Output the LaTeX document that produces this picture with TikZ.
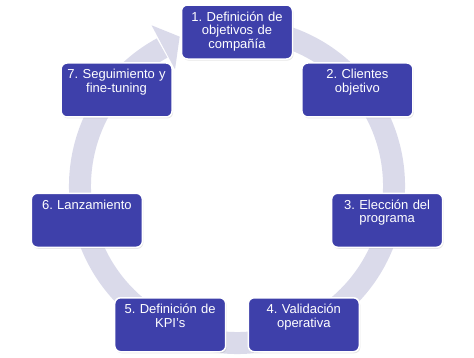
\documentclass[tikz,border=0pt]{standalone}
\usepackage{fontspec}
\setmainfont{Liberation Sans}
\usetikzlibrary{positioning,shadows}
\definecolor{azulpaso}{RGB}{62,64,170}
\definecolor{grisanillo}{RGB}{218,218,234}
\frenchspacing

\begin{document}
\begin{tikzpicture}[x=1pt, y=1pt,
  paso/.style={draw=white, line width=1.5pt, fill=azulpaso, rounded corners=6pt,
    minimum width=111pt, minimum height=54pt,
    drop shadow={opacity=0.2, shadow xshift=1pt, shadow yshift=-1.5pt}},
  rotulo/.style={anchor=north, yshift=-7pt, inner sep=0pt, text=white,
    text width=106pt, align=center, font=\fontsize{13}{13.5}\selectfont}]
  \newcommand\rr{157}
  \newcommand\rp{154}
  \useasboundingbox (0,0) rectangle (474,-357);

  \node[coordinate] (c) at (237,-186) {};

  % anillo y punta de flecha
  \draw[grisanillo, line width=22pt] (c) ++(78:\rr) arc[start angle=78, end angle=-241.5, radius=\rr];
  \fill[grisanillo] ([shift={(118:182)}]c) -- ([shift={(111:160)}]c) -- ([shift={(118:132)}]c) -- cycle;

  % pasos
  \node[paso] (p1) at ([shift={(90:\rp)}]c) {};
  \node[paso] (p2) at ([shift={(38.57:\rp)}]c) {};
  \node[paso] (p3) at ([shift={(-12.86:\rp)}]c) {};
  \node[paso] (p4) at ([shift={(-64.29:\rp)}]c) {};
  \node[paso] (p5) at ([shift={(-115.71:\rp)}]c) {};
  \node[paso] (p6) at ([shift={(-167.14:\rp)}]c) {};
  \node[paso] (p7) at ([shift={(141.43:\rp)}]c) {};
  %
  \node[rotulo] (t1) at (p1.north) {1. Definición de\\objetivos de\\compañía};
  \node[rotulo] (t2) at (p2.north) {2. Clientes\\objetivo};
  \node[rotulo] (t3) at (p3.north) {3. Elección del\\programa};
  \node[rotulo] (t4) at (p4.north) {4. Validación\\operativa};
  \node[rotulo] (t5) at (p5.north) {5. Definición de\\KPI’s};
  \node[rotulo] (t6) at (p6.north) {6. Lanzamiento};
  \node[rotulo] (t7) at (p7.north) {7. Seguimiento y\\fine-tuning};
\end{tikzpicture}
\end{document}
